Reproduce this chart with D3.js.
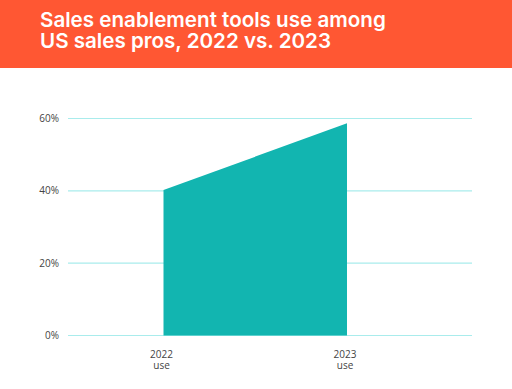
<!DOCTYPE html>
<html><head><meta charset="utf-8">
<script src="https://cdn.jsdelivr.net/npm/d3@7"></script>
<style>html,body{margin:0;padding:0;background:#fff;overflow:hidden}</style>
</head><body>
<svg id="c" width="512" height="389"></svg>
<script>
const categories = ["2022", "2023"];
const categorySub = ["use", "use"];
const values = [40.2, 58.7];
const yTicks = [0, 20, 40, 60];
const titleLines = ["Sales enablement tools use among", "US sales pros, 2022 vs. 2023"];

const svg = d3.select("#c");
svg.append("rect").attr("x",0).attr("y",0).attr("width",512).attr("height",68).attr("fill","#ff5733");
svg.selectAll("text.title").data(titleLines).join("text")
  .attr("x",40).attr("y",(d,i)=>27+i*21)
  .attr("font-family","Inter, 'Open Sans', sans-serif").attr("font-weight",600)
  .attr("font-size",20.6).attr("fill","#fff").text(d=>d);

const x = d3.scalePoint().domain(categories).range([163.5,347]);
const y = d3.scaleLinear().domain([0,60]).range([335.5,118.5]);

svg.append("g").selectAll("line").data(yTicks).join("line")
  .attr("x1",68).attr("x2",472).attr("y1",d=>y(d)).attr("y2",d=>y(d))
  .attr("stroke","#a9ecec").attr("stroke-width",1.2);

svg.selectAll("text.yl").data(yTicks).join("text")
  .attr("x",59).attr("y",d=>y(d)+3.5).attr("text-anchor","end")
  .attr("font-family","'Open Sans', sans-serif").attr("font-size",10).attr("fill","#444")
  .text(d=>d+"%");

const data = categories.map((c,i)=>({c, v: values[i]}));
svg.append("path").datum(data)
  .attr("d", d3.area().x(d=>x(d.c)).y0(y(0)).y1(d=>y(d.v)))
  .attr("fill","#12b5b0");

const xl = svg.selectAll("g.xl").data(categories).join("g")
  .attr("transform",d=>`translate(${x(d)-2},0)`);
xl.append("text").attr("y",357.5).attr("text-anchor","middle")
  .attr("font-family","'Open Sans', sans-serif").attr("font-size",10).attr("fill","#444").text(d=>d);
xl.append("text").attr("y",369).attr("text-anchor","middle")
  .attr("font-family","'Open Sans', sans-serif").attr("font-size",10).attr("fill","#444")
  .text((d,i)=>categorySub[i]);
</script>
</body></html>
